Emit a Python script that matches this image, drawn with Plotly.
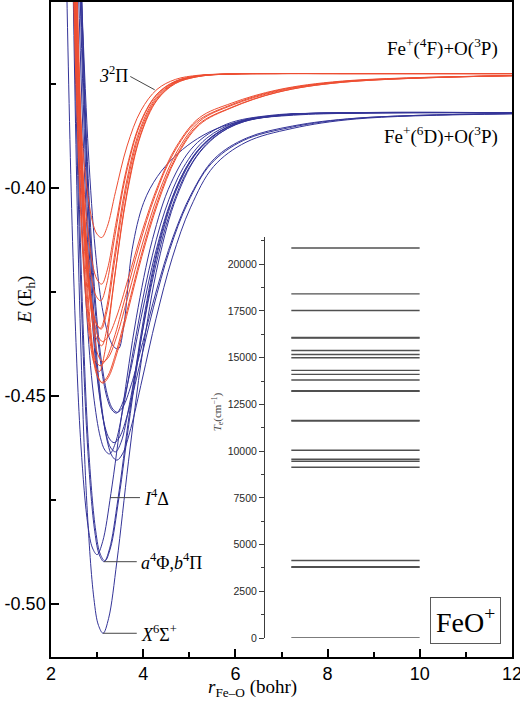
import plotly.graph_objects as go

# ---- potential energy curves (r in bohr, E in hartree) ----
# states correlating with Fe+(6D)+O(3P)  (blue)
r_X6S = [2.33, 2.48, 2.63, 2.78, 2.93, 3.03, 3.13, 3.25, 3.43, 3.68, 3.98, 4.33, 4.73, 5.23, 5.93, 6.93, 8.33, 12.0]
E_X6S = [-0.2222, -0.3525, -0.4315, -0.4764, -0.4987, -0.5052, -0.5071, -0.5035, -0.4898, -0.4659, -0.4400, -0.4179, -0.4021, -0.3915, -0.3852, -0.3827, -0.3821, -0.3820]
r_a4F = [2.35, 2.5, 2.65, 2.8, 2.95, 3.05, 3.15, 3.27, 3.45, 3.7, 4.0, 4.35, 4.75, 5.25, 5.95, 6.95, 8.35, 12.0]
E_a4F = [-0.2442, -0.3565, -0.4247, -0.4634, -0.4827, -0.4883, -0.4899, -0.4868, -0.4750, -0.4544, -0.4321, -0.4130, -0.3993, -0.3902, -0.3848, -0.3826, -0.3821, -0.3820]
r_b4P = [2.37, 2.52, 2.67, 2.82, 2.97, 3.07, 3.17, 3.29, 3.47, 3.72, 4.02, 4.37, 4.77, 5.27, 5.97, 6.97, 8.37, 12.0]
E_b4P = [-0.2445, -0.3566, -0.4246, -0.4633, -0.4825, -0.4881, -0.4897, -0.4866, -0.4748, -0.4543, -0.4320, -0.4129, -0.3993, -0.3902, -0.3848, -0.3826, -0.3821, -0.3820]
r_I4D = [2.2, 2.35, 2.5, 2.65, 2.8, 2.9, 3.0, 3.12, 3.3, 3.55, 3.85, 4.2, 4.6, 5.1, 5.8, 6.8, 8.2, 12.0]
E_I4D = [-0.2464, -0.3569, -0.4241, -0.4621, -0.4811, -0.4866, -0.4882, -0.4851, -0.4735, -0.4533, -0.4313, -0.4125, -0.3990, -0.3900, -0.3848, -0.3826, -0.3821, -0.3820]
r_b5 = [2.63, 2.78, 2.93, 3.08, 3.23, 3.33, 3.43, 3.55, 3.73, 3.98, 4.28, 4.63, 5.03, 5.53, 6.23, 7.23, 8.63, 12.0]
E_b5 = [-0.3401, -0.3955, -0.4304, -0.4508, -0.4614, -0.4646, -0.4655, -0.4640, -0.4579, -0.4460, -0.4314, -0.4169, -0.4047, -0.3949, -0.3891, -0.3858, -0.3835, -0.3823]
r_b6 = [2.47, 2.62, 2.77, 2.92, 3.07, 3.17, 3.27, 3.39, 3.57, 3.82, 4.12, 4.47, 4.87, 5.37, 6.07, 7.07, 8.47, 12.0]
E_b6 = [-0.3408, -0.3953, -0.4295, -0.4496, -0.4600, -0.4631, -0.4640, -0.4616, -0.4527, -0.4370, -0.4200, -0.4056, -0.3952, -0.3882, -0.3841, -0.3825, -0.3820, -0.3820]
r_b7 = [2.6, 2.75, 2.9, 3.05, 3.2, 3.3, 3.4, 3.52, 3.7, 3.95, 4.25, 4.6, 5.0, 5.5, 6.2, 7.2, 8.6, 12.0]
E_b7 = [-0.3411, -0.3952, -0.4292, -0.4492, -0.4595, -0.4626, -0.4635, -0.4612, -0.4522, -0.4367, -0.4198, -0.4054, -0.3951, -0.3882, -0.3841, -0.3825, -0.3820, -0.3820]
r_b8 = [2.57, 2.72, 2.87, 3.02, 3.17, 3.27, 3.37, 3.49, 3.67, 3.92, 4.22, 4.57, 4.97, 5.47, 6.17, 7.17, 8.57, 12.0]
E_b8 = [-0.3422, -0.3948, -0.4279, -0.4474, -0.4574, -0.4604, -0.4613, -0.4599, -0.4541, -0.4428, -0.4289, -0.4151, -0.4036, -0.3943, -0.3887, -0.3856, -0.3834, -0.3822]
r_b9 = [2.62, 2.77, 2.92, 3.07, 3.22, 3.32, 3.42, 3.54, 3.72, 3.97, 4.27, 4.62, 5.02, 5.52, 6.22, 7.22, 8.62, 12.0]
E_b9 = [-0.3458, -0.3937, -0.4238, -0.4415, -0.4507, -0.4534, -0.4542, -0.4521, -0.4442, -0.4304, -0.4155, -0.4027, -0.3936, -0.3875, -0.3839, -0.3824, -0.3820, -0.3820]
r_b10 = [2.64, 2.79, 2.94, 3.09, 3.24, 3.34, 3.44, 3.56, 3.74, 3.99, 4.29, 4.64, 5.04, 5.54, 6.24, 7.24, 8.64, 12.0]
E_b10 = [-0.3459, -0.3937, -0.4237, -0.4414, -0.4505, -0.4532, -0.4540, -0.4527, -0.4474, -0.4372, -0.4246, -0.4121, -0.4016, -0.3931, -0.3881, -0.3852, -0.3833, -0.3822]
r_b11 = [2.66, 2.81, 2.96, 3.11, 3.26, 3.36, 3.46, 3.58, 3.76, 4.01, 4.31, 4.66, 5.06, 5.56, 6.26, 7.26, 8.66, 12.0]
E_b11 = [-0.3535, -0.3912, -0.4149, -0.4288, -0.4360, -0.4382, -0.4388, -0.4331, -0.4149, -0.4036, -0.3973, -0.3928, -0.3891, -0.3860, -0.3837, -0.3826, -0.3821, -0.3820]

# states correlating with Fe+(4F)+O(3P)  (red)
r_32P = [2.3, 2.45, 2.6, 2.75, 2.9, 3.0, 3.1, 3.22, 3.4, 3.65, 3.95, 4.3, 4.7, 5.2, 5.9, 6.9, 8.3, 12.0]
E_32P = [-0.2630, -0.3342, -0.3754, -0.3976, -0.4082, -0.4112, -0.4120, -0.4094, -0.4010, -0.3900, -0.3815, -0.3764, -0.3740, -0.3730, -0.3727, -0.3726, -0.3726, -0.3726]
r_r1 = [2.3, 2.45, 2.6, 2.75, 2.9, 3.0, 3.1, 3.22, 3.4, 3.65, 3.95, 4.3, 4.7, 5.2, 5.9, 6.9, 8.3, 12.0]
E_r1 = [-0.2318, -0.3233, -0.3762, -0.4047, -0.4183, -0.4221, -0.4232, -0.4198, -0.4091, -0.3949, -0.3840, -0.3775, -0.3744, -0.3731, -0.3727, -0.3726, -0.3726, -0.3726]
r_r2 = [2.28, 2.43, 2.58, 2.73, 2.88, 2.98, 3.08, 3.2, 3.38, 3.63, 3.93, 4.28, 4.68, 5.18, 5.88, 6.88, 8.28, 12.0]
E_r2 = [-0.2206, -0.3194, -0.3765, -0.4073, -0.4220, -0.4261, -0.4272, -0.4235, -0.4120, -0.3967, -0.3849, -0.3779, -0.3746, -0.3732, -0.3727, -0.3726, -0.3726, -0.3726]
r_r3 = [2.27, 2.42, 2.57, 2.72, 2.87, 2.97, 3.07, 3.19, 3.37, 3.62, 3.92, 4.27, 4.67, 5.17, 5.87, 6.87, 8.27, 12.0]
E_r3 = [-0.2023, -0.3130, -0.3769, -0.4115, -0.4279, -0.4325, -0.4338, -0.4297, -0.4168, -0.3996, -0.3863, -0.3785, -0.3748, -0.3732, -0.3727, -0.3726, -0.3726, -0.3726]
r_r4 = [2.29, 2.44, 2.59, 2.74, 2.89, 2.99, 3.09, 3.21, 3.39, 3.64, 3.94, 4.29, 4.69, 5.19, 5.89, 6.89, 8.29, 12.0]
E_r4 = [-0.2017, -0.3128, -0.3770, -0.4116, -0.4281, -0.4327, -0.4340, -0.4299, -0.4169, -0.3997, -0.3864, -0.3786, -0.3748, -0.3732, -0.3727, -0.3726, -0.3726, -0.3726]
r_r5 = [2.32, 2.47, 2.62, 2.77, 2.92, 3.02, 3.12, 3.24, 3.42, 3.67, 3.97, 4.32, 4.72, 5.22, 5.92, 6.92, 8.32, 12.0]
E_r5 = [-0.1934, -0.3099, -0.3772, -0.4135, -0.4308, -0.4357, -0.4370, -0.4358, -0.4311, -0.4220, -0.4107, -0.3995, -0.3901, -0.3832, -0.3797, -0.3765, -0.3744, -0.3731]
r_r6 = [2.3, 2.45, 2.6, 2.75, 2.9, 3.0, 3.1, 3.22, 3.4, 3.65, 3.95, 4.3, 4.7, 5.2, 5.9, 6.9, 8.3, 12.0]
E_r6 = [-0.1906, -0.3089, -0.3772, -0.4141, -0.4317, -0.4366, -0.4380, -0.4336, -0.4198, -0.4015, -0.3873, -0.3790, -0.3750, -0.3733, -0.3727, -0.3726, -0.3726, -0.3726]
r_r7 = [2.33, 2.48, 2.63, 2.78, 2.93, 3.03, 3.13, 3.25, 3.43, 3.68, 3.98, 4.33, 4.73, 5.23, 5.93, 6.93, 8.33, 12.0]
E_r7 = [-0.1797, -0.3051, -0.3775, -0.4166, -0.4352, -0.4405, -0.4419, -0.4407, -0.4356, -0.4257, -0.4136, -0.4015, -0.3914, -0.3840, -0.3802, -0.3768, -0.3745, -0.3731]
r_r8 = [2.26, 2.41, 2.56, 2.71, 2.86, 2.96, 3.06, 3.18, 3.36, 3.61, 3.91, 4.26, 4.66, 5.16, 5.86, 6.86, 8.26, 12.0]
E_r8 = [-0.1772, -0.3042, -0.3776, -0.4172, -0.4361, -0.4413, -0.4428, -0.4415, -0.4364, -0.4264, -0.4141, -0.4019, -0.3917, -0.3842, -0.3803, -0.3768, -0.3746, -0.3731]
r_r9 = [2.25, 2.4, 2.55, 2.7, 2.85, 2.95, 3.05, 3.17, 3.35, 3.6, 3.9, 4.25, 4.65, 5.15, 5.85, 6.85, 8.25, 12.0]
E_r9 = [-0.1733, -0.3029, -0.3777, -0.4181, -0.4373, -0.4427, -0.4442, -0.4394, -0.4243, -0.4042, -0.3887, -0.3796, -0.3752, -0.3734, -0.3727, -0.3726, -0.3726, -0.3726]
r_r10 = [2.3, 2.45, 2.6, 2.75, 2.9, 3.0, 3.1, 3.22, 3.4, 3.65, 3.95, 4.3, 4.7, 5.2, 5.9, 6.9, 8.3, 12.0]
E_r10 = [-0.1661, -0.3003, -0.3779, -0.4197, -0.4397, -0.4452, -0.4468, -0.4455, -0.4400, -0.4295, -0.4165, -0.4036, -0.3928, -0.3848, -0.3808, -0.3771, -0.3747, -0.3731]
r_r11 = [2.32, 2.47, 2.62, 2.77, 2.92, 3.02, 3.12, 3.24, 3.42, 3.67, 3.97, 4.32, 4.72, 5.22, 5.92, 6.92, 8.32, 12.0]
E_r11 = [-0.1655, -0.3001, -0.3779, -0.4198, -0.4399, -0.4454, -0.4470, -0.4457, -0.4402, -0.4296, -0.4166, -0.4037, -0.3928, -0.3849, -0.3808, -0.3771, -0.3747, -0.3731]

blue_curves = [(r_X6S, E_X6S), (r_a4F, E_a4F), (r_b4P, E_b4P), (r_I4D, E_I4D), (r_b5, E_b5),
               (r_b6, E_b6), (r_b7, E_b7), (r_b8, E_b8), (r_b9, E_b9), (r_b10, E_b10), (r_b11, E_b11)]
red_curves = [(r_32P, E_32P), (r_r1, E_r1), (r_r2, E_r2), (r_r3, E_r3), (r_r4, E_r4), (r_r5, E_r5),
              (r_r6, E_r6), (r_r7, E_r7), (r_r8, E_r8), (r_r9, E_r9), (r_r10, E_r10), (r_r11, E_r11)]

# ---- inset: adiabatic excitation energies T_e (cm^-1) ----
Te_levels = [0, 3780, 3810, 4150, 9137, 9457, 9564, 10045, 11612, 11648, 13197, 13233,
             13803, 14105, 14319, 14996, 15174, 15388, 16046, 16082, 17525, 18415, 20873]

x_tick_vals = [2, 4, 6, 8, 10, 12]
y_tick_vals = [-0.50, -0.45, -0.40]
y_tick_text = ["-0.50", "-0.45", "-0.40"]

BLUE = "rgb(52,52,152)"
RED = "rgb(238,78,50)"
SERIF = "Liberation Serif, Times New Roman, serif"
SANS = "Liberation Sans, Arial, sans-serif"

fig = go.Figure()

for r, e in blue_curves:
    fig.add_trace(go.Scatter(x=r, y=e, mode="lines", showlegend=False, hoverinfo="skip",
                             line=dict(color=BLUE, width=1, shape="spline", smoothing=1.0)))
for r, e in red_curves:
    fig.add_trace(go.Scatter(x=r, y=e, mode="lines", showlegend=False, hoverinfo="skip",
                             line=dict(color=RED, width=1, shape="spline", smoothing=1.0)))

# inset level diagram
lx, ly = [], []
for te in Te_levels:
    lx += [0.17, 1.0, None]
    ly += [te, te, None]
fig.add_trace(go.Scatter(x=lx, y=ly, mode="lines", xaxis="x2", yaxis="y2", showlegend=False,
                         hoverinfo="skip", line=dict(color="rgb(80,80,80)", width=1.4)))

fig.update_layout(
    width=520, height=703,
    margin=dict(l=51, r=8, t=2, b=46),
    paper_bgcolor="white", plot_bgcolor="white",
    font=dict(family=SANS, color="black"),
    xaxis=dict(range=[2, 12], tickmode="array", tickvals=x_tick_vals, showgrid=False, zeroline=False,
               automargin=False, ticklabeloverflow="allow",
               showline=True, mirror=True, linecolor="black", linewidth=1.5,
               ticks="inside", ticklen=8, tickwidth=1.5, tickcolor="black",
               tickfont=dict(family=SANS, size=18),
               minor=dict(dtick=1, tick0=2, ticks="inside", ticklen=5, tickcolor="black")),
    yaxis=dict(range=[-0.5128, -0.3554], tickmode="array", tickvals=y_tick_vals, ticktext=y_tick_text,
               showgrid=False, zeroline=False, automargin=False, ticklabeloverflow="allow",
               showline=True, mirror=True, linecolor="black", linewidth=1.5,
               ticks="inside", ticklen=8, tickwidth=1.5, tickcolor="black",
               tickfont=dict(family=SANS, size=18),
               minor=dict(dtick=0.025, tick0=-0.5, ticks="inside", ticklen=5, tickcolor="black")),
    xaxis2=dict(domain=[0.4642, 0.80], range=[0, 1], visible=False, anchor="y2"),
    yaxis2=dict(domain=[0.029, 0.641], range=[0, 21450], anchor="x2", showgrid=False, zeroline=False,
                automargin=False, tickformat="d",
                showline=True, linecolor="rgb(60,60,60)", linewidth=1,
                ticks="outside", ticklen=5, tickcolor="rgb(60,60,60)", dtick=2500,
                tickfont=dict(family=SANS, size=10.5, color="rgb(40,40,40)"),
                minor=dict(dtick=1250, ticks="outside", ticklen=3, tickcolor="rgb(60,60,60)")),
)

# axis titles
fig.add_annotation(text="<i>E</i> (E<sub>h</sub>)", xref="paper", yref="paper", x=-0.085, y=0.545,
                   textangle=-90, showarrow=False, font=dict(family=SERIF, size=19))
fig.add_annotation(text="<i>r</i><sub>Fe–O</sub> (bohr)", xref="paper", yref="paper", x=0.438, y=-0.047,
                   yanchor="middle", showarrow=False, font=dict(family=SERIF, size=19))
fig.add_annotation(text="<i>T</i><sub>e</sub>(cm<sup>−1</sup>)", xref="paper", yref="paper", x=0.362, y=0.375,
                   textangle=-90, showarrow=False, font=dict(family=SERIF, size=11, color="rgb(70,70,70)"))

# state labels with leader lines
leaders = [
    ((3.72, -0.3733), (4.25, -0.3765)),
    ((3.28, -0.4745), (3.93, -0.4745)),
    ((3.15, -0.4899), (3.86, -0.4899)),
    ((3.13, -0.5071), (3.86, -0.5071)),
]
for (x0, y0), (x1, y1) in leaders:
    fig.add_shape(type="line", x0=x0, y0=y0, x1=x1, y1=y1, xref="x", yref="y",
                  line=dict(color="rgb(70,70,70)", width=1))

lab_font = dict(family=SERIF, size=18, color="black")
fig.add_annotation(text="<i>3</i><sup>2</sup>Π", x=3.71, y=-0.3728, xanchor="right", showarrow=False, font=lab_font)
fig.add_annotation(text="<i>I</i><sup>4</sup>Δ", x=3.97, y=-0.4745, xanchor="left", showarrow=False, font=lab_font)
fig.add_annotation(text="<i>a</i><sup>4</sup>Φ,<i>b</i><sup>4</sup>Π", x=3.9, y=-0.4899, xanchor="left",
                   showarrow=False, font=lab_font)
fig.add_annotation(text="<i>X</i><sup>6</sup>Σ<sup>+</sup>", x=3.9, y=-0.5071, xanchor="left",
                   showarrow=False, font=lab_font)

asym_font = dict(family=SERIF, size=19, color="black")
fig.add_annotation(text="Fe<sup>+</sup>(<sup>4</sup>F)+O(<sup>3</sup>P)", x=11.75, y=-0.3663, xanchor="right",
                   showarrow=False, font=asym_font)
fig.add_annotation(text="Fe<sup>+</sup>(<sup>6</sup>D)+O(<sup>3</sup>P)", x=11.75, y=-0.3875, xanchor="right",
                   showarrow=False, font=asym_font)

fig.add_annotation(text="FeO<sup>+</sup>", x=11.0, y=-0.5041, showarrow=False,
                   font=dict(family=SERIF, size=28, color="black"),
                   bordercolor="rgb(90,90,90)", borderwidth=1, borderpad=5, bgcolor="white")

# the page's default body margin would shift the fixed-size figure by 8 px
fig.write_html("out.html", config={"displayModeBar": False},
               post_script="document.body.style.margin='0';")
